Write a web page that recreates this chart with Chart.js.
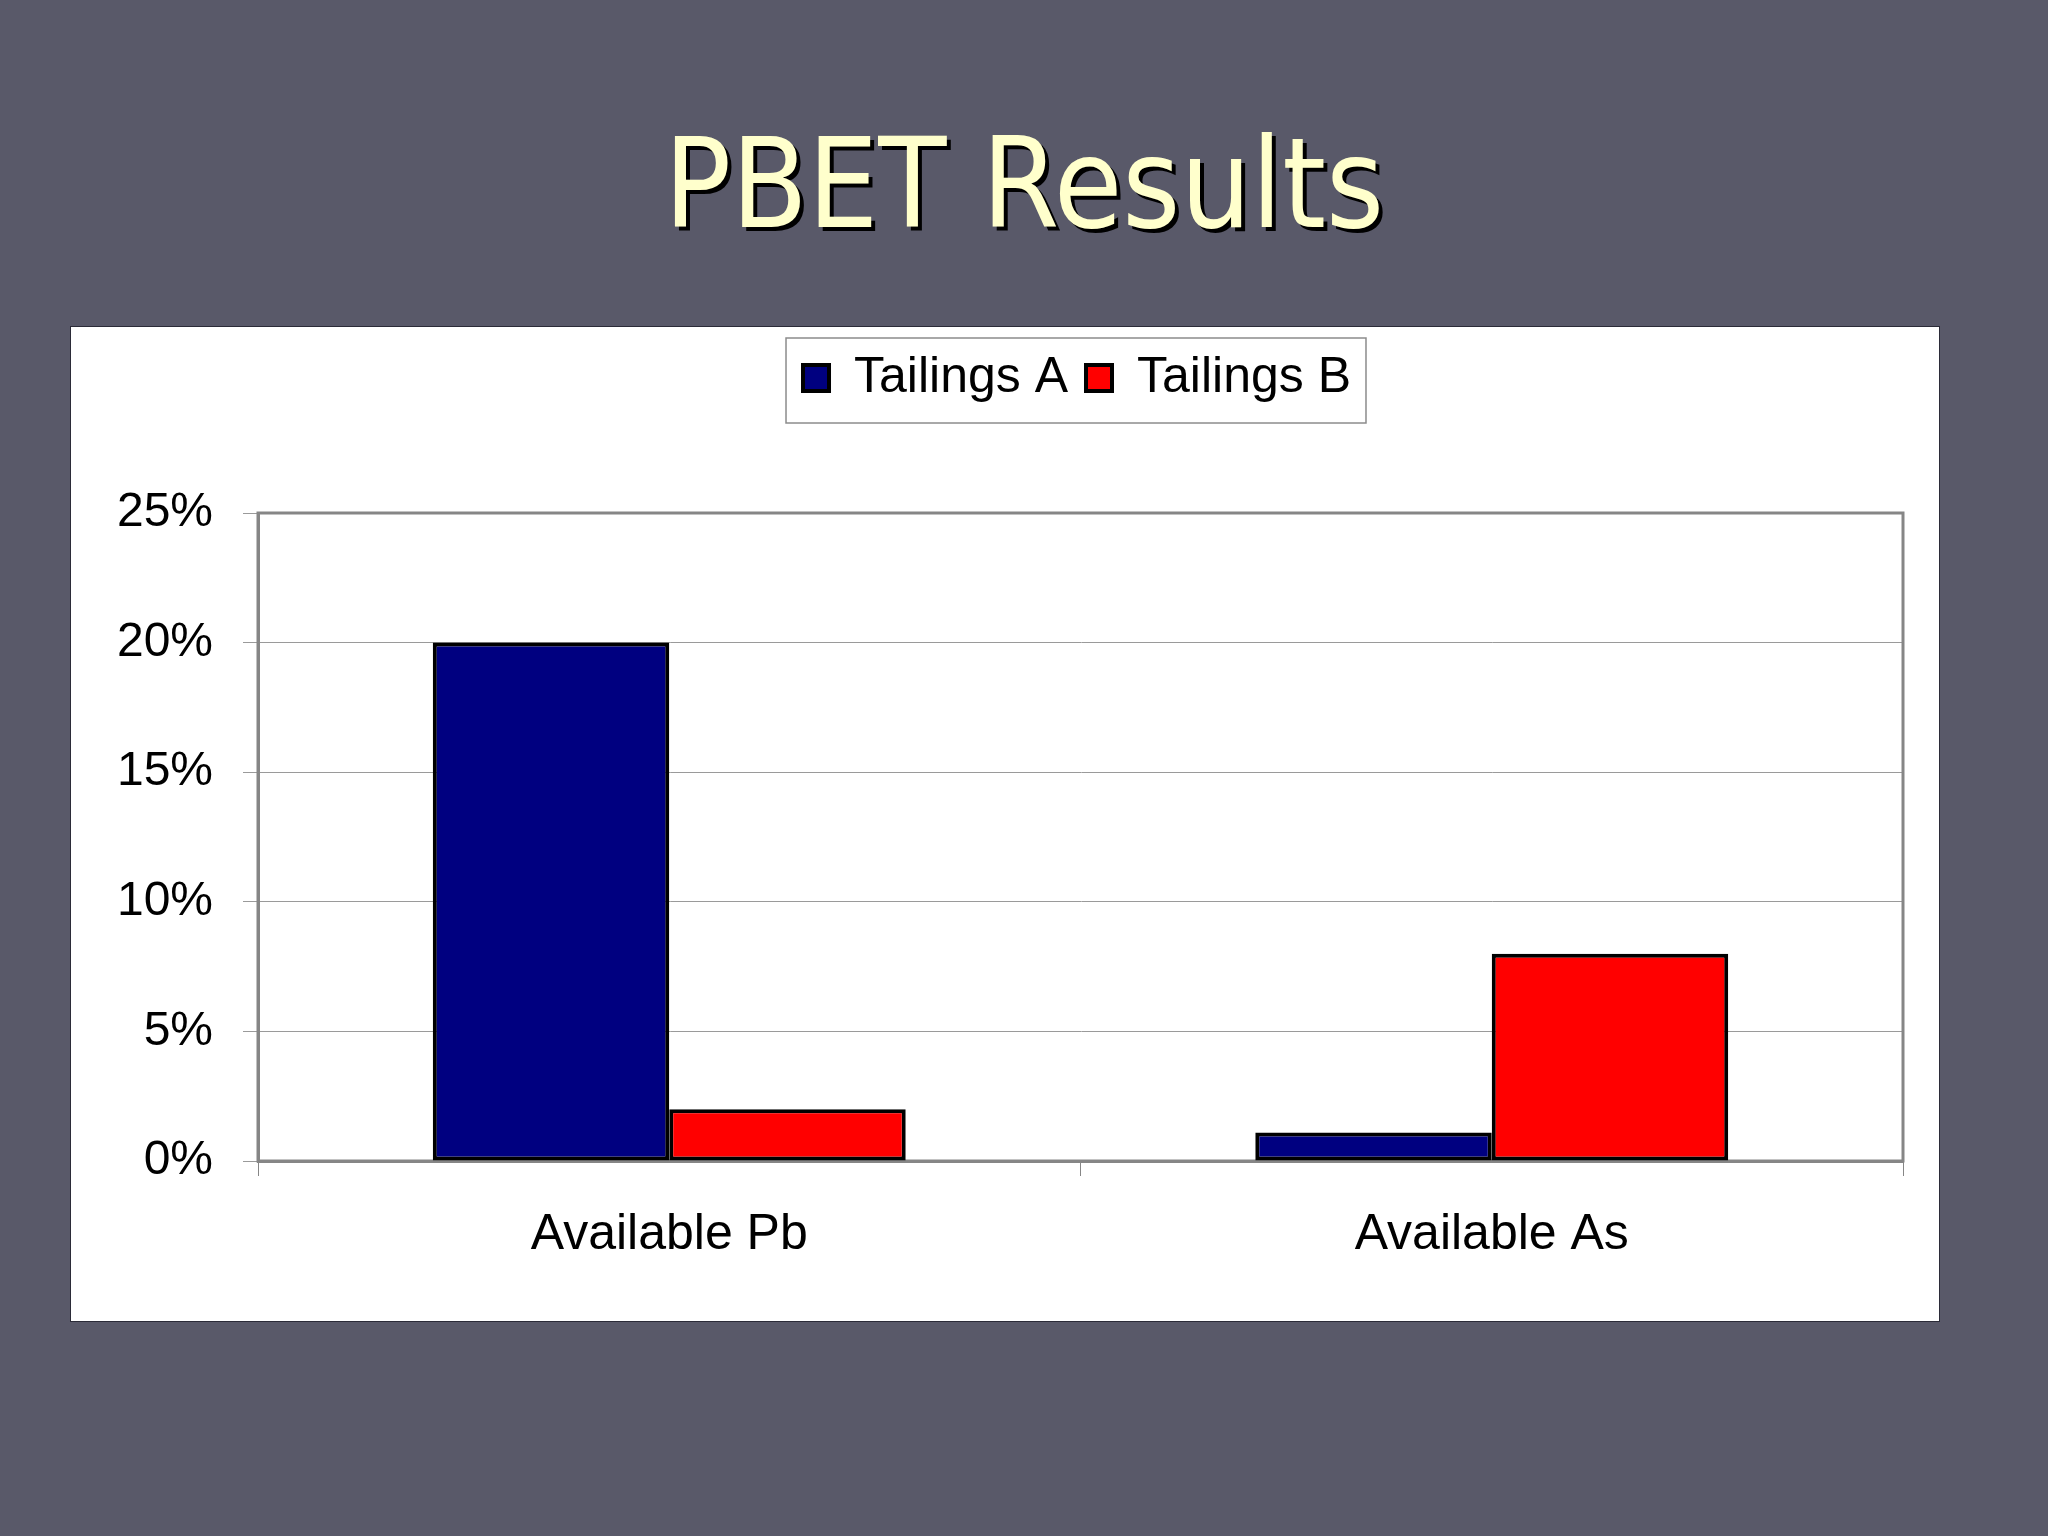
<!DOCTYPE html>
<html>
<head>
<meta charset="utf-8">
<script src="https://cdn.jsdelivr.net/npm/chart.js@4.4.0/dist/chart.umd.min.js"></script>
<style>
  html, body { margin: 0; padding: 0; }
  body {
    width: 2048px; height: 1536px; overflow: hidden; position: relative;
    background: #595969;
  }
  #title {
    position: absolute; left: 0; top: 94px; width: 2048px; text-align: center;
    font-family: "DejaVu Sans Condensed", "DejaVu Sans", sans-serif; font-stretch: condensed;
    font-size: 124px; line-height: 180px; color: #FFFFCC;
    text-shadow: 4px 4px 0 #000;
  }
  #box {
    position: absolute; left: 70px; top: 326px; width: 1868px; height: 994px;
    background: #fff; border: 1px solid #2b2b38;
  }
</style>
</head>
<body>
<div id="title">PBET Results</div>
<div id="box"><canvas id="myChart" width="1868" height="994"></canvas></div>
<script>
// 데이터
var categories = ['Available Pb', 'Available As'];
var tailingsA = [20, 1.1];
var tailingsB = [2, 8];
var yTicks = [0, 5, 10, 15, 20, 25];

var AXIS_GRAY = '#868686';
var FONT = 'Liberation Sans, Arial, sans-serif';

// 범례 위치 + 범례 테두리 + 플롯 테두리
var framePlugin = {
	id: 'frame',
	beforeLayout: function(chart){
		var lg = chart.legend;
		if (lg && !lg._fixed){
			var fit = lg.fit;
			lg.fit = function(){ fit.call(this); this.height = 178; };
			lg._fixed = true;
		}
	},
	afterLayout: function(chart){
		var lg = chart.legend;
		lg.left = 180;
		lg.right = chart.chartArea.right;
		lg.adjustHitBoxes();
	},
	beforeDatasetsDraw: function(chart){
		var ctx = chart.ctx, a = chart.chartArea;
		ctx.save();
		ctx.strokeStyle = AXIS_GRAY;
		ctx.lineWidth = 3;
		ctx.strokeRect(a.left, a.top, a.right - a.left, a.bottom - a.top);
		ctx.restore();
	},
	afterDraw: function(chart){
		var ctx = chart.ctx, hb = chart.legend.legendHitBoxes;
		var last = hb[hb.length-1];
		var x1 = hb[0].left - 17, x2 = last.left + last.width + 15;
		ctx.save();
		ctx.strokeStyle = '#8c8c8c';
		ctx.lineWidth = 1.5;
		ctx.strokeRect(x1, 11, x2 - x1, 85);
		ctx.restore();
	}
};

new Chart('myChart', {
	type: 'bar',
	data: {
		labels: categories,
		datasets: [{
			label: 'Tailings A',
			backgroundColor: '#000080',
			borderColor: '#000000',
			borderWidth: 4,
			borderSkipped: false,
			data: tailingsA
		},{
			label: 'Tailings B',
			backgroundColor: '#FF0000',
			borderColor: '#000000',
			borderWidth: 4,
			borderSkipped: false,
			data: tailingsB
		}]
	},
	options: {
		responsive: false,
		animation: false,
		devicePixelRatio: 1,
		layout: { padding: { left: 0, right: 36, top: 8, bottom: 0 } },
		datasets: { bar: { categoryPercentage: 0.575, barPercentage: 1.0 } },
		plugins: {
			legend: {
				position: 'top',
				labels: {
					boxWidth: 26, boxHeight: 26, padding: 18,
					color: '#000',
					font: { family: FONT, size: 50 }
				}
			},
			tooltip: { enabled: false }
		},
		scales: {
			x: {
				grid: { display: true, drawOnChartArea: false, drawTicks: true, tickLength: 15, color: AXIS_GRAY, offset: true },
				border: { display: true, color: AXIS_GRAY, width: 3 },
				ticks: { color: '#000', padding: 29, font: { family: FONT, size: 50 } },
				afterFit: function(scale){ scale.height = 160; }
			},
			y: {
				min: 0, max: 25,
				afterBuildTicks: function(scale){ scale.ticks = yTicks.map(function(v){ return { value: v }; }); },
				grid: { color: '#9a9a9a', lineWidth: 1, tickLength: 15, drawTicks: true },
				border: { display: true, color: AXIS_GRAY, width: 3 },
				ticks: {
					color: '#000', padding: 30,
					font: { family: FONT, size: 48 },
					callback: function(v){ return v + '%'; }
				},
				afterFit: function(scale){ scale.width = 187; }
			}
		}
	},
	plugins: [framePlugin]
});
</script>
</body>
</html>
